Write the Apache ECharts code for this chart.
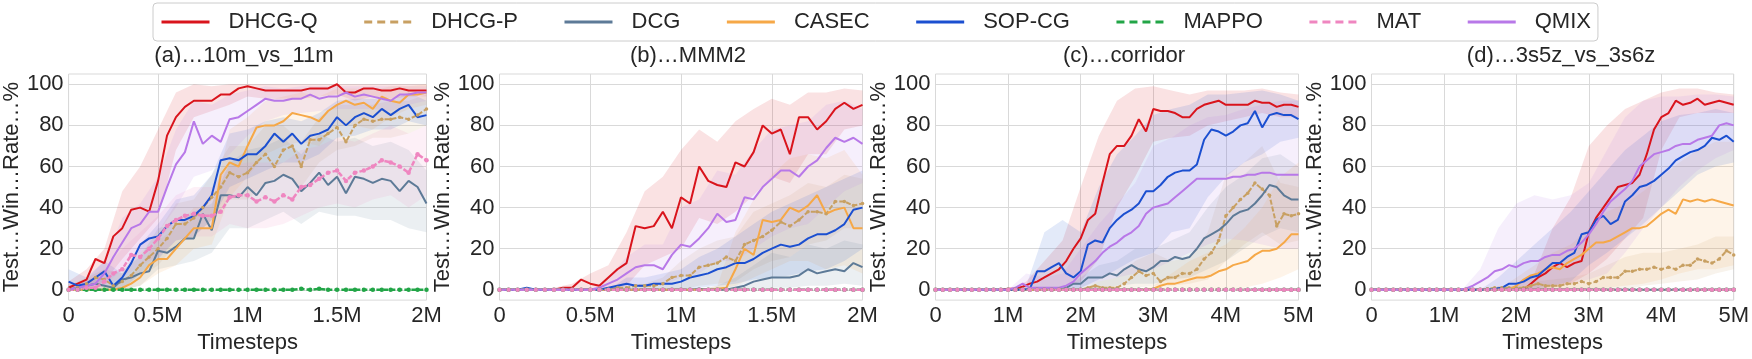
<!DOCTYPE html>
<html>
<head>
<meta charset="utf-8">
<title>Win rate curves</title>
<script src="https://cdn.jsdelivr.net/npm/echarts@6/dist/echarts.min.js"></script>
<style>
  html, body { margin: 0; padding: 0; background: #fff; }
  #chart { width: 1752px; height: 359px; }
</style>
</head>
<body>
<div id="chart"></div>
<script>
/* -------------------------------------------------------------------------- */
/*                                    Data                                    */
/* -------------------------------------------------------------------------- */

const methods = ['DHCG-Q', 'DHCG-P', 'DCG', 'CASEC', 'SOP-CG', 'MAPPO', 'MAT', 'QMIX'];
const titles = ['(a)…10m_vs_11m', '(b)…MMM2', '(c)…corridor', '(d)…3s5z_vs_3s6z'];
const yName = 'Test…Win…Rate…%';
const xName = 'Timesteps';
const yTicks = [0, 20, 40, 60, 80, 100];
const xTicksAB = ['0', '0.5M', '1M', '1.5M', '2M'];
const xTicksCD = ['0', '1M', '2M', '3M', '4M', '5M'];

// timesteps in millions
const stepsAB = [0, 0.05, 0.1, 0.15, 0.2, 0.25, 0.3, 0.35, 0.4, 0.45, 0.5, 0.55, 0.6, 0.65, 0.7, 0.75, 0.8, 0.85, 0.9, 0.95, 1, 1.05, 1.1, 1.15, 1.2, 1.25, 1.3, 1.35, 1.4, 1.45, 1.5, 1.55, 1.6, 1.65, 1.7, 1.75, 1.8, 1.85, 1.9, 1.95, 2];
const stepsCD = [0, 0.1, 0.2, 0.3, 0.4, 0.5, 0.6, 0.7, 0.8, 0.9, 1, 1.1, 1.2, 1.3, 1.4, 1.5, 1.6, 1.7, 1.8, 1.9, 2, 2.1, 2.2, 2.3, 2.4, 2.5, 2.6, 2.7, 2.8, 2.9, 3, 3.1, 3.2, 3.3, 3.4, 3.5, 3.6, 3.7, 3.8, 3.9, 4, 4.1, 4.2, 4.3, 4.4, 4.5, 4.6, 4.7, 4.8, 4.9, 5];
const bandStepsAB = [0, 0.1, 0.2, 0.3, 0.4, 0.5, 0.6, 0.7, 0.8, 0.9, 1, 1.1, 1.2, 1.3, 1.4, 1.5, 1.6, 1.7, 1.8, 1.9, 2];
const bandStepsCD = [0, 0.25, 0.5, 0.75, 1, 1.25, 1.5, 1.75, 2, 2.25, 2.5, 2.75, 3, 3.25, 3.5, 3.75, 4, 4.25, 4.5, 4.75, 5];

const zeroAB = [0, 0, 0, 0, 0, 0, 0, 0, 0, 0, 0, 0, 0, 0, 0, 0, 0, 0, 0, 0, 0, 0, 0, 0, 0, 0, 0, 0, 0, 0, 0, 0, 0, 0, 0, 0, 0, 0, 0, 0, 0];
const zeroCD = [0, 0, 0, 0, 0, 0, 0, 0, 0, 0, 0, 0, 0, 0, 0, 0, 0, 0, 0, 0, 0, 0, 0, 0, 0, 0, 0, 0, 0, 0, 0, 0, 0, 0, 0, 0, 0, 0, 0, 0, 0, 0, 0, 0, 0, 0, 0, 0, 0, 0, 0];

// (a) 10m_vs_11m
const a_dhcgq = [1, 3, 5, 15, 13, 26, 30, 39, 40, 38, 53, 75, 84, 89, 92, 92, 92, 95, 95, 98, 99, 98, 97, 97, 97, 97, 97, 98, 98, 98, 100, 96, 96, 98, 98, 97, 97, 98, 97, 97, 97];
const a_dhcgp = [0, 1, 3, 6, 5, 2, 4, 7, 12, 16, 20, 25, 32, 32, 35, 40, 45, 50, 57, 55, 57, 62, 66, 60, 68, 70, 60, 73, 73, 76, 79, 72, 80, 83, 82, 83, 83, 84, 83, 85, 88];
const a_dcg = [0, 1, 2, 3, 2, 1, 5, 6, 8, 9, 19, 18, 21, 25, 25, 37, 29, 46, 46, 45, 50, 46, 52, 53, 56, 54, 48, 52, 57, 51, 55, 47, 55, 54, 52, 54, 53, 48, 53, 50, 42];
const a_casec = [0, 0, 0, 0, 0, 0, 1, 3, 6, 12, 15, 15, 20, 25, 30, 30, 30, 56, 62, 60, 70, 79, 80, 80, 82, 86, 85, 84, 82, 87, 90, 92, 90, 91, 88, 94, 92, 91, 95, 95, 96];
const a_sopcg = [4, 2, 3, 6, 9, 2, 6, 13, 22, 25, 26, 31, 34, 34, 36, 40, 46, 63, 64, 63, 66, 66, 70, 76, 72, 76, 71, 75, 76, 78, 84, 80, 84, 86, 84, 88, 85, 88, 90, 84, 85];
const a_mappo = [0, 0, 0, 0, 0, 0, 0, 0, 0, 0, 0, 0, 0, 0, 0, 0, 0, 0, 0, 0, 0, 0, 0, 0, 0, 0, 0.5, 0, 0.5, 0, 0, 0, 0, 0, 0, 0, 0, 0, 0, 0, 0];
const a_mat = [0, 0, 1, 1, 4, 8, 10, 17, 16, 20, 25, 31, 34, 36, 37, 36, 36, 38, 45, 46, 46, 43, 45, 43, 46, 44, 50, 51, 54, 57, 58, 53, 57, 58, 60, 63, 62, 60, 57, 66, 63];
const a_qmix = [0, 1, 2, 3, 8, 16, 23, 30, 32, 38, 38, 50, 61, 67, 82, 71, 75, 72, 83, 84, 87, 90, 93, 92, 92, 93, 93, 95, 93, 94, 94, 96, 94, 95, 94, 93, 92, 95, 95, 96, 96];

const a_dhcgq_lo = [0, 1, 4, 15, 25, 35, 68, 84, 87, 90, 94, 93, 93, 93, 94, 95, 92, 94, 93, 94, 94];
const a_dhcgq_hi = [4, 10, 20, 48, 60, 78, 96, 100, 99, 100, 100, 100, 100, 100, 100, 100, 100, 100, 100, 100, 100];
const a_dhcgp_lo = [0, 0, 1, 0, 6, 12, 22, 26, 34, 44, 44, 52, 56, 50, 62, 68, 70, 74, 74, 76, 80];
const a_dhcgp_hi = [2, 6, 10, 8, 18, 28, 42, 44, 56, 70, 70, 80, 80, 72, 84, 90, 90, 90, 92, 92, 95];
const a_dcg_lo = [0, 0, 0, 0, 2, 10, 12, 14, 18, 30, 30, 34, 38, 32, 38, 36, 36, 34, 34, 30, 28];
const a_dcg_hi = [2, 4, 6, 10, 16, 30, 32, 38, 42, 62, 68, 70, 74, 66, 76, 72, 74, 70, 72, 68, 58];
const a_casec_lo = [0, 0, 0, 0, 2, 8, 12, 20, 22, 45, 55, 66, 70, 72, 70, 80, 80, 78, 84, 88, 90];
const a_casec_hi = [1, 1, 2, 4, 12, 24, 30, 40, 40, 78, 84, 92, 94, 96, 94, 98, 98, 97, 99, 99, 100];
const a_sopcg_lo = [0, 0, 2, 0, 8, 15, 24, 26, 34, 50, 54, 58, 62, 62, 66, 74, 75, 78, 78, 82, 80];
const a_sopcg_hi = [10, 6, 14, 8, 22, 32, 44, 46, 56, 76, 78, 82, 84, 82, 86, 92, 93, 93, 92, 96, 92];
const a_mat_lo = [0, 0, 2, 6, 12, 16, 24, 26, 26, 32, 30, 30, 32, 36, 40, 42, 40, 44, 46, 40, 46];
const a_mat_hi = [2, 4, 10, 20, 28, 36, 46, 50, 50, 60, 62, 62, 62, 68, 70, 74, 72, 76, 80, 76, 80];
const a_qmix_lo = [0, 0, 2, 10, 18, 28, 40, 55, 58, 66, 75, 82, 85, 86, 87, 88, 88, 88, 87, 90, 92];
const a_qmix_hi = [2, 5, 14, 35, 42, 55, 78, 92, 90, 95, 97, 99, 98, 99, 99, 99, 99, 99, 99, 99, 99];

// (b) MMM2
const b_dhcgq = [0, 0, 0, 0, 0, 0, 0, 1, 1, 5, 3, 2, 6, 10, 13, 31, 30, 31, 38, 30, 45, 42, 60, 53, 51, 50, 62, 60, 67, 80, 76, 78, 66, 84, 84, 78, 82, 88, 91, 88, 90];
const b_dhcgp = [0, 0, 0, 0, 0, 0, 0, 0, 0, 0, 0, 0, 0, 1, 1, 2, 2, 2, 3, 6, 7, 7, 11, 12, 13, 16, 14, 22, 24, 26, 29, 33, 31, 34, 38, 38, 37, 43, 43, 41, 42];
const b_dcg = [0, 0, 0, 0, 0, 0, 0, 0, 0, 0, 0, 0, 0, 0, 0, 0, 0, 0, 0, 0, 0, 0, 0.5, 0, 0, 0, 1, 2, 4, 5, 6, 6, 6, 7, 10, 8, 9, 10, 9, 13, 11];
const b_casec = [0, 0, 0, 0, 0, 0, 0, 0, 0, 0, 0, 0, 0, 0, 0, 0, 0, 0, 0, 0, 0, 0, 0, 0, 0.5, 1, 10, 20, 17, 34, 33, 34, 40, 38, 41, 46, 37, 39, 40, 30, 30];
const b_sopcg = [0, 0, 0, 1, 0, 0, 0, 0, 0, 0, 0, 0, 1, 2, 3, 2, 2, 3, 3, 3, 4, 6, 7, 8, 10, 11, 13, 13, 15, 18, 20, 22, 21, 22, 25, 27, 27, 29, 32, 39, 40];
const b_mappo = zeroAB;
const b_mat = zeroAB;
const b_qmix = [0, 0, 0, 0, 0, 0, 0, 0, 0, 0, 0, 1, 3, 5, 8, 11, 12, 12, 10, 17, 22, 21, 25, 30, 37, 33, 34, 45, 44, 50, 54, 58, 58, 55, 60, 63, 69, 74, 72, 74, 71];

const b_dhcgq_lo = [0, 0, 0, 0, 0, 0, 0, 2, 12, 16, 20, 35, 32, 38, 46, 55, 52, 66, 66, 78, 80];
const b_dhcgq_hi = [0, 0, 0, 1, 3, 8, 12, 28, 48, 55, 68, 78, 72, 82, 88, 93, 90, 96, 96, 98, 97];
const b_dhcgp_lo = [0, 0, 0, 0, 0, 0, 0, 0, 0, 0, 0, 2, 3, 4, 10, 14, 16, 22, 24, 30, 30];
const b_dhcgp_hi = [0, 0, 0, 0, 0, 0, 0, 2, 3, 6, 14, 20, 24, 26, 38, 42, 46, 52, 50, 56, 54];
const b_dcg_lo = [0, 0, 0, 0, 0, 0, 0, 0, 0, 0, 0, 0, 0, 0, 0, 1, 1, 2, 2, 3, 2];
const b_dcg_hi = [0, 0, 0, 0, 0, 0, 0, 0, 0, 0, 0, 0, 2, 6, 12, 18, 16, 22, 20, 24, 22];
const b_casec_lo = [0, 0, 0, 0, 0, 0, 0, 0, 0, 0, 0, 0, 0, 2, 6, 10, 14, 14, 10, 12, 8];
const b_casec_hi = [0, 0, 0, 0, 0, 0, 0, 0, 0, 0, 0, 0, 2, 28, 44, 56, 64, 66, 64, 68, 56];
const b_sopcg_lo = [0, 0, 0, 0, 0, 0, 0, 0, 0, 0, 0, 1, 2, 3, 5, 6, 7, 9, 10, 14, 20];
const b_sopcg_hi = [0, 0, 0, 0, 0, 0, 0, 6, 6, 8, 10, 16, 20, 26, 32, 38, 42, 46, 50, 54, 58];
const b_qmix_lo = [0, 0, 0, 0, 0, 0, 0, 1, 3, 2, 6, 8, 14, 14, 20, 26, 30, 32, 40, 48, 52];
const b_qmix_hi = [0, 0, 0, 0, 0, 0, 6, 16, 22, 22, 40, 44, 58, 56, 68, 78, 80, 82, 90, 92, 88];

// (c) corridor
const c_dhcgq = [0, 0, 0, 0, 0, 0, 0, 0, 0, 0, 0.5, 0.5, 1.5, 3, 4, 6, 8, 10, 14, 20, 25, 34, 37, 52, 66, 70, 70, 75, 83, 77, 88, 87, 87, 86, 84, 84, 88, 90, 91, 92, 90, 90, 90, 90, 92, 91, 91, 89, 90, 90, 89];
const c_dhcgp = [0, 0, 0, 0, 0, 0, 0, 0, 0, 0, 0, 0, 0, 0, 0, 0, 0, 0, 0, 0, 0, 1, 2, 1, 1, 1, 3, 6, 9, 7, 8, 4, 6, 6, 8, 8, 10, 15, 18, 24, 36, 40, 44, 47, 52, 49, 46, 31, 37, 36, 37];
const c_dcg = [0, 0, 0, 0, 0, 0, 0, 0, 0, 0, 0, 0, 0, 0, 0, 0, 0, 0, 1, 3, 3, 6, 6, 6, 8, 7, 10, 12, 10, 9, 11, 14, 14, 16, 15, 16, 20, 25, 27, 29, 32, 36, 38, 39, 42, 46, 51, 50, 46, 44, 44];
const c_casec = [0, 0, 0, 0, 0, 0, 0, 0, 0, 0, 0, 0, 0, 0, 0, 0, 0, 0, 0, 0, 0, 0, 0, 0, 0, 0, 0, 0, 0, 0, 0.5, 2, 3, 3, 4, 5, 6, 6, 7, 9, 10, 12, 13, 14, 17, 19, 19, 20, 23, 27, 27];
const c_sopcg = [0, 0, 0, 0, 0, 0, 0, 0, 0, 0, 0, 0, 0, 0.5, 9, 9, 11, 13, 8, 6, 9, 22, 24, 23, 30, 34, 37, 39, 42, 48, 48, 51, 55, 57, 58, 58, 61, 73, 78, 77, 75, 77, 80, 81, 87, 79, 85, 86, 85, 85, 83];
const c_mappo = zeroCD;
const c_mat = zeroCD;
const c_qmix = [0, 0, 0, 0, 0, 0, 0, 0, 0, 0, 0, 1, 3, 1, 1, 1, 1, 1, 2, 4, 8, 11, 14, 18, 21, 23, 26, 28, 31, 37, 40, 41, 42, 45, 48, 51, 54, 54, 54, 54, 54, 55, 55, 56, 56, 57, 57, 56, 56, 56, 56];

const c_dhcgq_lo = [0, 0, 0, 0, 0, 0, 0, 1, 4, 15, 40, 55, 72, 74, 75, 80, 82, 84, 86, 84, 84];
const c_dhcgq_hi = [0, 0, 0, 0, 0, 4, 14, 24, 50, 75, 92, 98, 99, 97, 95, 97, 97, 97, 98, 96, 95];
const c_dhcgp_lo = [0, 0, 0, 0, 0, 0, 0, 0, 0, 0, 0, 1, 2, 2, 3, 5, 14, 22, 28, 22, 24];
const c_dhcgp_hi = [0, 0, 0, 0, 0, 0, 0, 0, 0, 4, 6, 14, 18, 14, 16, 28, 56, 62, 70, 52, 50];
const c_dcg_lo = [0, 0, 0, 0, 0, 0, 0, 0, 0, 1, 2, 3, 3, 5, 6, 10, 14, 20, 26, 30, 28];
const c_dcg_hi = [0, 0, 0, 0, 0, 0, 0, 0, 6, 12, 14, 20, 20, 24, 28, 40, 50, 56, 64, 66, 60];
const c_casec_lo = [0, 0, 0, 0, 0, 0, 0, 0, 0, 0, 0, 0, 0, 0, 0, 0, 0, 1, 3, 6, 10];
const c_casec_hi = [0, 0, 0, 0, 0, 0, 0, 0, 0, 0, 0, 0, 2, 8, 14, 18, 22, 30, 40, 55, 62];
const c_sopcg_lo = [0, 0, 0, 0, 0, 0, 0, 0, 1, 5, 10, 15, 18, 28, 30, 45, 55, 62, 66, 72, 74];
const c_sopcg_hi = [0, 0, 0, 0, 0, 2, 28, 34, 28, 50, 66, 75, 85, 88, 90, 95, 95, 96, 97, 95, 92];
const c_qmix_lo = [0, 0, 0, 0, 0, 0, 0, 0, 1, 4, 6, 8, 10, 14, 18, 22, 25, 24, 22, 20, 20];
const c_qmix_hi = [0, 0, 0, 0, 0, 8, 6, 8, 20, 32, 42, 52, 70, 74, 80, 84, 85, 88, 90, 92, 92];

// (d) 3s5z_vs_3s6z
const d_dhcgq = [0, 0, 0, 0, 0, 0, 0, 0, 0, 0, 0, 0, 0, 0, 0, 0, 0, 0, 0, 0, 0, 0, 3, 6, 8, 11, 13, 11, 13, 14, 28, 35, 40, 45, 50, 51, 52, 56, 66, 78, 84, 86, 92, 90, 91, 93, 90, 91, 92, 91, 90];
const d_dhcgp = [0, 0, 0, 0, 0, 0, 0, 0, 0, 0, 0, 0, 0, 0, 0, 0, 0.5, 1, 1, 1, 1, 1, 2, 3, 2, 2, 2, 3, 3, 4, 3, 4, 6, 6, 6, 9, 9, 10, 10, 11, 10, 11, 10, 12, 12, 15, 14, 13, 15, 19, 17];
const d_dcg = zeroCD;
const d_casec = [0, 0, 0, 0, 0, 0, 0, 0, 0, 0, 0, 0, 0, 0, 0, 0, 0, 0, 0, 0, 2, 5, 7, 8, 10, 11, 10, 13, 15, 17, 20, 23, 23, 24, 26, 28, 30, 30, 31, 34, 37, 39, 37, 44, 43, 44, 43, 44, 43, 42, 41];
const d_sopcg = [0, 0, 0, 0, 0, 0, 0, 0, 0, 0, 0, 0, 0, 0, 0, 0, 0, 0.5, 1, 3, 3, 4, 6, 7, 10, 13, 13, 16, 18, 27, 28, 34, 36, 32, 34, 43, 46, 50, 51, 53, 56, 59, 63, 65, 67, 68, 70, 74, 73, 75, 72];
const d_mappo = zeroCD;
const d_mat = zeroCD;
const d_qmix = [0, 0, 0, 0, 0, 0, 0, 0, 0, 0, 0, 0, 0, 0.5, 2, 4, 6, 9, 10, 12, 11, 13, 14, 14, 16, 17, 17, 19, 20, 23, 27, 32, 38, 43, 46, 49, 53, 60, 63, 66, 67, 68, 70, 71, 71, 73, 74, 75, 80, 81, 80];

const d_dhcgq_lo = [0, 0, 0, 0, 0, 0, 0, 0, 0, 0, 1, 3, 8, 15, 25, 35, 68, 84, 86, 86, 86];
const d_dhcgq_hi = [0, 0, 0, 0, 0, 0, 0, 0, 2, 8, 30, 45, 70, 80, 88, 92, 96, 98, 98, 96, 95];
const d_dhcgp_lo = [0, 0, 0, 0, 0, 0, 0, 0, 0, 0, 0, 0, 0, 0, 0, 2, 3, 4, 5, 8, 10];
const d_dhcgp_hi = [0, 0, 0, 0, 0, 0, 0, 0, 0, 4, 5, 6, 8, 12, 16, 18, 18, 20, 22, 26, 26];
const d_casec_lo = [0, 0, 0, 0, 0, 0, 0, 0, 0, 0, 0, 0, 0, 1, 2, 3, 5, 8, 10, 10, 12];
const d_casec_hi = [0, 0, 0, 0, 0, 0, 0, 0, 6, 12, 18, 22, 30, 38, 42, 48, 55, 62, 68, 72, 72];
const d_sopcg_lo = [0, 0, 0, 0, 0, 0, 0, 0, 0, 0, 2, 4, 12, 18, 25, 32, 40, 48, 56, 60, 62];
const d_sopcg_hi = [0, 0, 0, 0, 0, 0, 0, 6, 14, 22, 30, 38, 48, 58, 68, 75, 82, 85, 86, 88, 86];
const d_qmix_lo = [0, 0, 0, 0, 0, 0, 0, 0, 0, 1, 2, 3, 5, 8, 18, 30, 40, 50, 58, 64, 68];
const d_qmix_hi = [0, 0, 0, 0, 0, 0, 10, 30, 42, 46, 44, 46, 52, 68, 84, 92, 94, 94, 95, 95, 94];

/* -------------------------------------------------------------------------- */
/*                                   Styling                                  */
/* -------------------------------------------------------------------------- */

const colors = {
  'DHCG-Q': '#d9141c',
  'DHCG-P': '#c8a062',
  DCG: '#5d7a97',
  CASEC: '#f6a847',
  'SOP-CG': '#1b4fd0',
  MAPPO: '#22a547',
  MAT: '#ef86c0',
  QMIX: '#b878e8'
};
const dashed = { 'DHCG-P': true, MAPPO: true, MAT: true };

const FONT = 'Liberation Sans';
const TEXT = '#262626';
const GRID_LINE = '#d9d9d9';
const gridLefts = [63.5, 499.5, 935.5, 1371.5];
const titleXs = [244, 688, 1124, 1561];
const GRID_TOP = 74;
const GRID_W = 363;
const GRID_H = 237;

const panels = [
  {
    steps: stepsAB, bandSteps: bandStepsAB, xTicks: xTicksAB, max: 2, interval: 0.5,
    lines: [a_dhcgq, a_dhcgp, a_dcg, a_casec, a_sopcg, a_mappo, a_mat, a_qmix],
    bands: [[a_dhcgq_lo, a_dhcgq_hi], [a_dhcgp_lo, a_dhcgp_hi], [a_dcg_lo, a_dcg_hi], [a_casec_lo, a_casec_hi],
      [a_sopcg_lo, a_sopcg_hi], null, [a_mat_lo, a_mat_hi], [a_qmix_lo, a_qmix_hi]]
  },
  {
    steps: stepsAB, bandSteps: bandStepsAB, xTicks: xTicksAB, max: 2, interval: 0.5,
    lines: [b_dhcgq, b_dhcgp, b_dcg, b_casec, b_sopcg, b_mappo, b_mat, b_qmix],
    bands: [[b_dhcgq_lo, b_dhcgq_hi], [b_dhcgp_lo, b_dhcgp_hi], [b_dcg_lo, b_dcg_hi], [b_casec_lo, b_casec_hi],
      [b_sopcg_lo, b_sopcg_hi], null, null, [b_qmix_lo, b_qmix_hi]]
  },
  {
    steps: stepsCD, bandSteps: bandStepsCD, xTicks: xTicksCD, max: 5, interval: 1,
    lines: [c_dhcgq, c_dhcgp, c_dcg, c_casec, c_sopcg, c_mappo, c_mat, c_qmix],
    bands: [[c_dhcgq_lo, c_dhcgq_hi], [c_dhcgp_lo, c_dhcgp_hi], [c_dcg_lo, c_dcg_hi], [c_casec_lo, c_casec_hi],
      [c_sopcg_lo, c_sopcg_hi], null, null, [c_qmix_lo, c_qmix_hi]]
  },
  {
    steps: stepsCD, bandSteps: bandStepsCD, xTicks: xTicksCD, max: 5, interval: 1,
    lines: [d_dhcgq, d_dhcgp, d_dcg, d_casec, d_sopcg, d_mappo, d_mat, d_qmix],
    bands: [[d_dhcgq_lo, d_dhcgq_hi], [d_dhcgp_lo, d_dhcgp_hi], null, [d_casec_lo, d_casec_hi],
      [d_sopcg_lo, d_sopcg_hi], null, null, [d_qmix_lo, d_qmix_hi]]
  }
];

/* -------------------------------------------------------------------------- */
/*                                    Chart                                   */
/* -------------------------------------------------------------------------- */

const chart = echarts.init(document.getElementById('chart'), null, { renderer: 'canvas' });

const grids = panels.map((p, i) => ({
  left: gridLefts[i],
  top: GRID_TOP,
  width: GRID_W,
  height: GRID_H,
  show: true,
  borderColor: GRID_LINE,
  borderWidth: 1,
  containLabel: false
}));

const xAxes = panels.map((p, i) => ({
  type: 'value',
  gridIndex: i,
  min: 0,
  max: p.max,
  interval: p.interval,
  name: xName,
  nameLocation: 'middle',
  nameGap: 19,
  nameTextStyle: { fontSize: 22, color: TEXT, fontFamily: FONT },
  axisLine: { show: false },
  axisTick: { show: false },
  splitLine: { show: true, lineStyle: { color: GRID_LINE, width: 1 } },
  axisLabel: {
    color: TEXT,
    fontSize: 22,
    fontFamily: FONT,
    margin: 5,
    showMinLabel: true,
    showMaxLabel: true,
    formatter: v => p.xTicks[Math.round(v / p.interval)]
  }
}));

const yAxes = panels.map((p, i) => ({
  type: 'value',
  gridIndex: i,
  min: -5,
  max: 105,
  name: yName,
  nameLocation: 'middle',
  nameGap: 42,
  nameTextStyle: { fontSize: 22, color: TEXT, fontFamily: FONT },
  axisLine: { show: false },
  axisTick: { show: false, customValues: yTicks },
  splitLine: { show: true, lineStyle: { color: GRID_LINE, width: 1 } },
  axisLabel: {
    color: TEXT,
    fontSize: 22,
    fontFamily: FONT,
    margin: 5,
    customValues: yTicks
  }
}));

// spread band as one polygon, placed through the axis scales
const bandRenderer = (steps, lo, hi, color) => (params, api) => {
  const top = steps.map((s, i) => api.coord([s, hi[i]]));
  const bottom = steps.map((s, i) => api.coord([s, lo[i]])).reverse();
  return {
    type: 'polygon',
    shape: { points: top.concat(bottom) },
    style: { fill: color, opacity: 0.12 },
    silent: true
  };
};

const series = [];
panels.forEach((p, gi) => {
  // shaded spread first, so the mean lines sit on top
  p.bands.forEach((band, k) => {
    if (!band) return;
    const [lo, hi] = band;
    series.push({
      type: 'custom',
      name: `${methods[k]} spread`,
      xAxisIndex: gi,
      yAxisIndex: gi,
      data: [[p.bandSteps[0], lo[0]]],
      renderItem: bandRenderer(p.bandSteps, lo, hi, colors[methods[k]]),
      clip: true,
      silent: true,
      animation: false,
      z: 1
    });
  });

  p.lines.forEach((vals, k) => {
    const name = methods[k];
    const isDashed = !!dashed[name];
    const flat = name === 'MAPPO' || name === 'MAT';
    series.push({
      type: 'line',
      name,
      xAxisIndex: gi,
      yAxisIndex: gi,
      data: p.steps.map((s, i) => [s, vals[i]]),
      symbol: 'circle',
      symbolSize: flat ? 4.5 : 3.5,
      showSymbol: isDashed,
      showAllSymbol: true,
      animation: false,
      z: 3,
      itemStyle: { color: colors[name] },
      lineStyle: { color: colors[name], width: flat ? 2.5 : 2, type: isDashed ? [5, 2] : 'solid' },
      emphasis: { disabled: true }
    });
  });
});

const option = {
  backgroundColor: '#ffffff',
  animation: false,
  textStyle: { fontFamily: FONT },
  legend: {
    data: methods,
    left: 153,
    top: 3,
    padding: [8, 7],
    itemWidth: 48,
    itemHeight: 12,
    itemGap: 45,
    borderColor: '#cccccc',
    borderWidth: 1,
    borderRadius: 4,
    itemStyle: { opacity: 0 },
    lineStyle: { width: 3, type: 'solid' },
    textStyle: { fontSize: 22, color: TEXT, fontFamily: FONT, padding: [0, 0, 0, 14] },
    selectedMode: false
  },
  graphic: titles.map((t, i) => ({
    type: 'text',
    x: titleXs[i],
    y: 56,
    style: {
      text: t,
      fill: TEXT,
      font: `22px "${FONT}"`,
      align: 'center',
      verticalAlign: 'middle'
    }
  })),
  grid: grids,
  xAxis: xAxes,
  yAxis: yAxes,
  series
};

// dashed legend keys for the dashed methods
option.legend.data = methods.map(name => ({
  name,
  lineStyle: dashed[name] ? { type: [8, 5], width: 3 } : { width: 3 }
}));

chart.setOption(option);
</script>
</body>
</html>
